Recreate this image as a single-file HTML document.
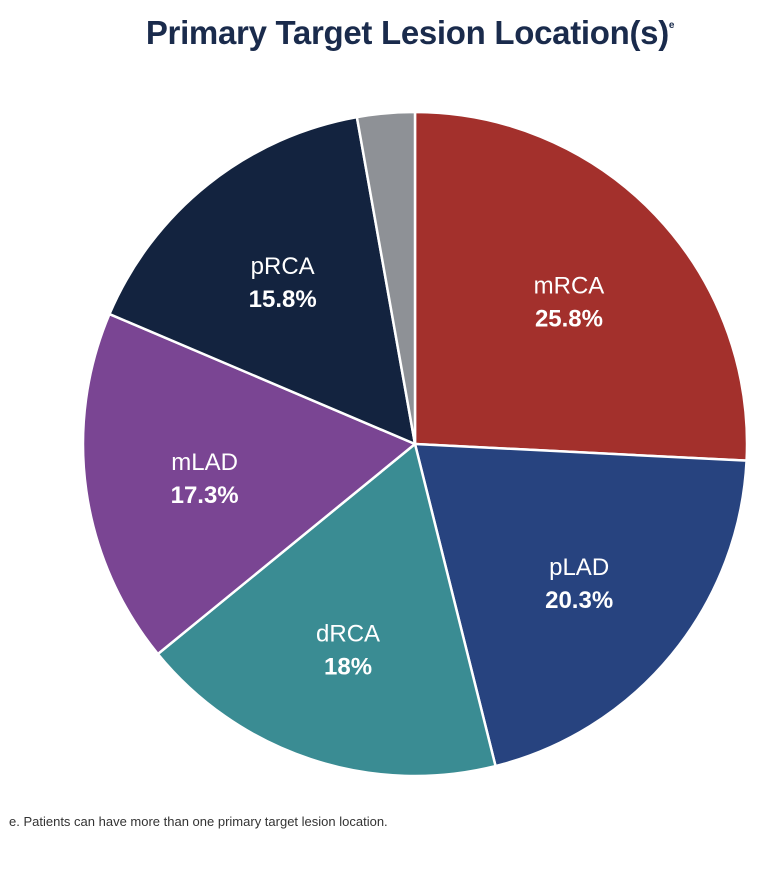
<!DOCTYPE html>
<html><head><meta charset="utf-8"><style>
body{margin:0;background:#fff;width:766px;height:886px;overflow:hidden;font-family:"Liberation Sans",Arial,sans-serif}
#title{position:absolute;left:0;width:820px;top:14px;text-align:center;font-size:33px;font-weight:bold;color:#1a2b4c;letter-spacing:-0.3px}
#title sup{font-size:10px;vertical-align:top;position:relative;top:6px}
#foot{position:absolute;left:9px;top:814px;font-size:13px;color:#333}
svg{position:absolute;left:0;top:0}
</style></head><body>
<div id="title">Primary Target Lesion Location(s)<sup>e</sup></div>
<svg id="chart" width="766" height="886"></svg>
<div id="foot">e. Patients can have more than one primary target lesion location.</div>
<script>
const categories = ["mRCA","pLAD","dRCA","mLAD","pRCA","Other"];
const values = [25.8,20.3,18,17.3,15.8,2.8];
const valueLabels = ["25.8%","20.3%","18%","17.3%","15.8%",""];
const colors = ["#a3302c","#27437f","#3a8c93","#7a4593","#13233f","#8e9196"];
const cx=415, cy=444, r=332;
const svg=document.getElementById('chart');
const NS='http://www.w3.org/2000/svg';
const total=values.reduce((a,b)=>a+b,0);
let acc=0;
function pt(frac,rad){const a=frac*2*Math.PI;return [cx+rad*Math.sin(a),cy-rad*Math.cos(a)];}
values.forEach((v,i)=>{
  const s=acc/total, e=(acc+v)/total; acc+=v;
  const p0=pt(s,r), p1=pt(e,r);
  const large=(e-s)>0.5?1:0;
  const path=document.createElementNS(NS,'path');
  path.setAttribute('d',`M${cx},${cy}L${p0[0]},${p0[1]}A${r},${r} 0 ${large} 1 ${p1[0]},${p1[1]}Z`);
  path.setAttribute('fill',colors[i]);
  path.setAttribute('stroke','#fff');
  path.setAttribute('stroke-width','2.5');
  path.setAttribute('stroke-linejoin','round');
  
  
  svg.appendChild(path);
  if(valueLabels[i]){
    const m=pt((s+e)/2,r*0.64);
    const t1=document.createElementNS(NS,'text');
    t1.setAttribute('x',m[0]);t1.setAttribute('y',m[1]-4);
    t1.setAttribute('text-anchor','middle');t1.setAttribute('fill','#fff');
    t1.setAttribute('font-size','24');
    t1.textContent=categories[i];
    
    
    svg.appendChild(t1);
    const t2=document.createElementNS(NS,'text');
    t2.setAttribute('x',m[0]);t2.setAttribute('y',m[1]+29);
    t2.setAttribute('text-anchor','middle');t2.setAttribute('fill','#fff');
    t2.setAttribute('font-size','24');t2.setAttribute('font-weight','bold');
    t2.textContent=valueLabels[i];
    
    
    svg.appendChild(t2);
  }
});
</script>
</body></html>
